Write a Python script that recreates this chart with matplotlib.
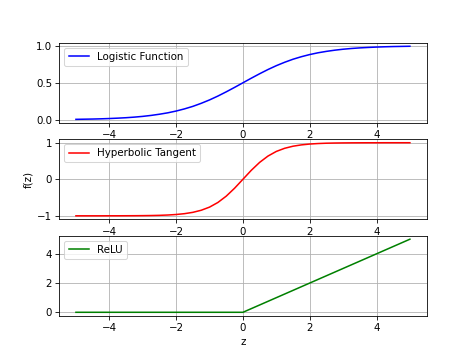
import numpy as np
import matplotlib
matplotlib.use('Agg')
import matplotlib.pyplot as plt

# z positions (step 0.25 from -5 to 5)
z = np.linspace(-5, 5, 41)

# values
logistic = [0.007, 0.009, 0.011, 0.014, 0.018, 0.023, 0.029, 0.037, 0.047, 0.060,
            0.076, 0.095, 0.119, 0.148, 0.182, 0.223, 0.269, 0.321, 0.378, 0.438,
            0.500,
            0.562, 0.622, 0.679, 0.731, 0.777, 0.818, 0.852, 0.881, 0.905, 0.924,
            0.940, 0.953, 0.963, 0.971, 0.977, 0.982, 0.986, 0.989, 0.991, 0.993]

tanh = [-1.0, -1.0, -1.0, -1.0, -0.999, -0.999, -0.998, -0.997, -0.995, -0.992,
        -0.987, -0.978, -0.964, -0.941, -0.905, -0.848, -0.762, -0.635, -0.462, -0.245,
        0.0,
        0.245, 0.462, 0.635, 0.762, 0.848, 0.905, 0.941, 0.964, 0.978, 0.987,
        0.992, 0.995, 0.997, 0.998, 0.999, 0.999, 1.0, 1.0, 1.0, 1.0]

relu_z = [-5, 0, 5]
relu = [0, 0, 5]

# original was 640x480 at 100 dpi, scaled down
fig, axes = plt.subplots(3, 1, figsize=(474 / 74, 355 / 74), dpi=74)

axes[0].plot(z, logistic, color='b', label='Logistic Function')
axes[1].plot(z, tanh, color='r', label='Hyperbolic Tangent')
axes[2].plot(relu_z, relu, color='g', label='ReLU')

for ax in axes:
    ax.grid(True)
    ax.legend(loc='upper left')

axes[1].set_ylabel('f(z)')
axes[2].set_xlabel('z')

plt.savefig('out.png', dpi=74)
